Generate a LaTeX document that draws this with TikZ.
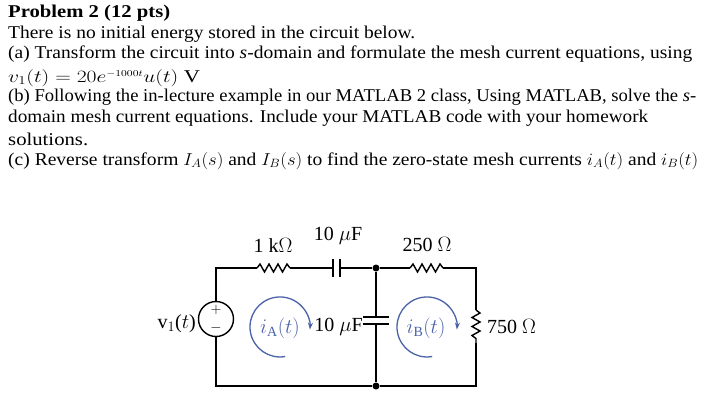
\documentclass[tikz,border=0pt]{standalone}
\usepackage{fontspec}
\setmainfont{Liberation Serif}
\usepackage{graphicx}
\usetikzlibrary{arrows.meta}
\definecolor{meshblue}{HTML}{4A62A8}
\newcommand{\fitline}[2]{\resizebox{#1pt}{\height}{#2}}
\begin{document}
\begin{tikzpicture}[x=1pt,y=-1pt,
  txt/.style={anchor=west,inner sep=0pt,font=\fontsize{18}{18}\selectfont},
  lbl/.style={inner sep=0pt,font=\fontsize{20}{20}\selectfont},
  sgn/.style={inner sep=0pt,font=\fontsize{15}{15}\selectfont},
  wire/.style={line width=1.4pt},
  dot/.style={circle,fill,inner sep=0pt,minimum size=7pt},
  mesh/.style={meshblue,line width=1.3pt,-{Stealth[length=7pt,width=5pt]}}]
\useasboundingbox (0,0) rectangle (723,405);
% text
\node[txt] (l1) at (8,13) {\fitline{162}{\textbf{Problem 2 (12 pts)}}};
\node[txt] (l2) at (8,34) {\fitline{407}{There is no initial energy stored in the circuit below.}};
\node[txt] (l3) at (8,54) {\fitline{684}{(a) Transform the circuit into \textit{s}-domain and formulate the mesh current equations, using}};
\node[txt] (l4) at (8,78) {\fitline{192}{$v_1(t)=20e^{\scriptscriptstyle-1000t}u(t)$ V}};
\node[txt] (l5) at (8,97) {\fitline{688}{(b) Following the in-lecture example in our MATLAB 2 class, Using MATLAB, solve the \textit{s}-}};
\node[txt] (l6) at (8,118) {\fitline{640}{domain mesh current equations. Include your MATLAB code with your homework}};
\node[txt] (l7) at (8,139) {\fitline{80}{solutions.}};
\node[txt] (l8) at (8,161) {\fitline{690}{(c) Reverse transform $I_A(s)$ and $I_B(s)$ to find the zero-state mesh currents $i_A(t)$ and $i_B(t)$}};
% circuit coordinates
\coordinate (tl) at (216,268);
\coordinate (bl) at (216,386);
\node[dot] (jt) at (376,268) {};
\node[dot] (jb) at (376,386) {};
\coordinate (tr) at (476,268);
\coordinate (br) at (476,386);
\node[circle,draw,line width=1.4pt,minimum size=35pt,inner sep=0pt] (src) at (216,319) {};
\node[sgn] (plus) at (216,310) {$+$};
\node[sgn] (minus) at (216,328) {$-$};
\node[lbl,anchor=east] (v1) at (196,324) {v$_1$($t$)};
% resistor 1k
\coordinate (r1a) at (257,268); \coordinate (r1b) at (290,268);
\draw[wire] (r1a) -- ++(3,-4) -- ++(4.5,8) -- ++(4.5,-8) -- ++(4.5,8) -- ++(4.5,-8) -- ++(4.5,8) -- ++(4.5,-8) -- (r1b);
\node[lbl] (r1l) at (273,245) {1 k$\Omega$};
% series cap
\coordinate (c1a) at (333,268); \coordinate (c1b) at (340,268);
\draw[wire] (333,259) -- (333,277) (340,259) -- (340,277);
\node[lbl] (c1l) at (338,236) {10 $\mu$F};
% 250
\coordinate (r2a) at (410,268); \coordinate (r2b) at (443,268);
\draw[wire] (r2a) -- ++(3,-4) -- ++(4.5,8) -- ++(4.5,-8) -- ++(4.5,8) -- ++(4.5,-8) -- ++(4.5,8) -- ++(4.5,-8) -- (r2b);
\node[lbl] (r2l) at (427,245) {250 $\Omega$};
% 750
\coordinate (r3a) at (476,310); \coordinate (r3b) at (476,343);
\draw[wire] (r3a) -- ++(4,3) -- ++(-8,4.5) -- ++(8,4.5) -- ++(-8,4.5) -- ++(8,4.5) -- ++(-8,4.5) -- ++(4,3) -- (r3b);
\node[lbl,anchor=west] (r3l) at (487,327) {750 $\Omega$};
% mid cap
\coordinate (c2a) at (376,317); \coordinate (c2b) at (376,324);
\draw[wire] (363,317) -- (389,317) (363,324) -- (389,324);
\node[lbl,anchor=east] (c2l) at (363,327) {10 $\mu$F};
% wires
\draw[wire] (src.south) -- (bl) -- (jb) -- (br) -- (r3b);
\draw[wire] (src.north) -- (tl) -- (r1a);
\draw[wire] (r1b) -- (c1a);
\draw[wire] (c1b) -- (jt) -- (r2a);
\draw[wire] (r2b) -- (tr) -- (r3a);
\draw[wire] (jt) -- (c2a);
\draw[wire] (c2b) -- (jb);
% meshes
\draw[mesh] (285.2,356.5) arc[start angle=80,end angle=365,radius=30];
\node[lbl,meshblue] (ia) at (280,328) {$i_{\mathrm{A}}(t)$};
\draw[mesh] (432.2,356.5) arc[start angle=80,end angle=365,radius=30];
\node[lbl,meshblue] (ib) at (426,328) {$i_{\mathrm{B}}(t)$};
\end{tikzpicture}
\end{document}
